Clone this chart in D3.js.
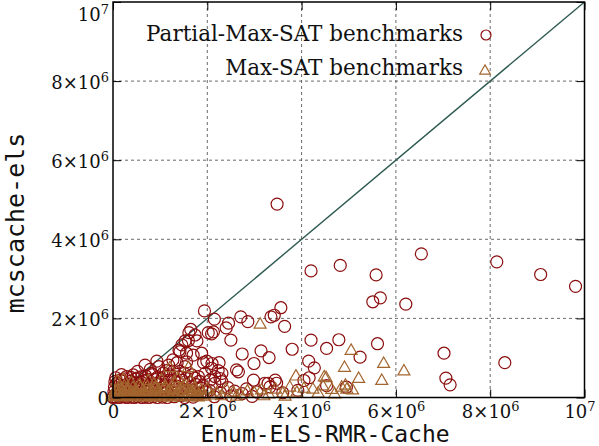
<!DOCTYPE html>
<html>
<head>
<meta charset="utf-8">
<script src="https://cdn.jsdelivr.net/npm/d3@7"></script>
<style>
  body { margin: 0; background: #fff; }
  svg { display: block; }
</style>
</head>
<body>
<div id="chart"></div>
<script>
// values in millions
var partialMaxSat = [
  [3.48,4.89],[4.20,3.20],[4.82,3.34],[5.58,3.10],[5.51,2.42],[5.67,2.52],[6.21,2.36],[6.54,3.63],
  [8.14,3.43],[9.07,3.11],[9.81,2.81],
  [1.94,2.19],[2.15,1.98],[2.71,2.04],[2.86,1.92],[2.45,1.88],[2.40,1.76],[3.35,2.04],[3.42,2.08],
  [3.56,2.27],[3.64,1.80],[1.65,1.72],[1.61,1.64],[2.02,1.64],[2.09,1.61],[2.13,1.66],[1.74,1.58],
  [4.20,1.45],[4.79,1.46],[4.53,1.24],[5.61,1.36],[5.24,1.02],[4.15,0.92],[4.27,0.75],[7.02,1.12],
  [8.31,0.88],[7.06,0.49],[7.15,0.32],[4.16,0.50],[4.05,0.43],[4.53,0.30],[4.95,0.26],
  [1.53,1.43],[1.60,1.44],[1.78,1.43],[2.50,1.45],[2.74,1.10],[3.14,1.18],[3.31,1.01],[2.99,0.86],
  [3.80,1.22],[1.40,1.20],[1.46,1.33],[1.42,1.16],[1.56,1.12],[1.70,1.07],[1.88,1.12],
  [0.93,0.92],[1.36,0.88],[1.56,0.90],[1.53,0.78],[1.92,0.88],[2.10,0.86],[2.25,0.88],[2.23,0.68],
  [2.62,0.70],[2.66,0.65],[2.98,0.44],[3.44,0.44],[1.81,0.53],[2.06,0.44],[1.99,0.92],[2.09,0.74],
  [2.16,0.53],[2.27,0.48],[2.31,0.40],[3.22,0.36],[3.29,0.36],[3.47,0.36],[1.85,0.10],[2.74,0.10],
  [3.33,0.27],[2.31,0.61],[2.16,0.36],[1.95,0.61],[1.67,0.57],[1.46,0.44],[1.14,0.53],[0.82,0.61],
  [0.61,0.53],[0.43,0.57],[0.29,0.53],[0.15,0.44],[0.54,0.36],[1.24,0.32],[1.67,0.27],[1.88,0.23],
  [0.05,0.08],[0.12,0.22],[0.21,0.31],[0.26,0.12],[0.36,0.41],[0.41,0.18],[0.48,0.47],[0.57,0.24],
  [0.66,0.42],[0.71,0.15],[0.77,0.33],[0.88,0.46],[0.92,0.21],[1.02,0.38],[1.07,0.62],[1.11,0.12],
  [1.19,0.44],[1.28,0.66],[1.33,0.19],[1.39,0.52],[1.51,0.61],[1.58,0.14],[1.63,0.38],[1.74,0.49],
  [1.79,0.07],[0.08,0.36],[0.18,0.58],[0.33,0.05],[0.63,0.07],[0.98,0.06],[1.22,0.08],[1.44,0.05],
  [2.05,0.18],[2.28,0.12],[2.44,0.25],[2.58,0.16],[2.83,0.22],[3.05,0.14],[3.60,0.12],[3.92,0.18],
  [0.52,0.66],[0.79,0.71],[0.97,0.78],[1.18,0.82],[1.27,0.95],[0.68,0.82],
  [0.01,0.02],[0.02,0.15],[0.03,0.27],[0.04,0.40],[0.06,0.50],[0.10,0.10],[0.13,0.32],[0.17,0.05],
  [0.20,0.42],[0.23,0.20],[0.27,0.47],[0.31,0.33],[0.34,0.16],[0.38,0.51],[0.40,0.28],[0.44,0.09],
  [0.47,0.36],[0.50,0.22],[0.53,0.50],[0.58,0.13],[0.60,0.39],[0.64,0.28],[0.69,0.55],[0.72,0.05],
  [0.74,0.46],[0.80,0.24],[0.84,0.58],[0.86,0.11],[0.90,0.36],[0.95,0.52],[1.00,0.17],[1.04,0.47],
  [1.09,0.28],[1.13,0.68],[1.16,0.20],[1.21,0.57],[1.26,0.12],[1.30,0.42],[1.35,0.29],[1.42,0.66],
  [1.48,0.22],[1.55,0.48],[1.61,0.08],[1.70,0.18],[1.76,0.33],[1.83,0.41],[1.90,0.30],[1.97,0.14],
  [0.00,0.00],[0.07,0.01],[0.14,0.00],[0.22,0.02],[0.29,0.00],[0.37,0.01],[0.45,0.00],[0.52,0.02],
  [0.61,0.00],[0.68,0.01],[0.76,0.00],[0.85,0.02],[0.94,0.00],[1.05,0.01],[1.15,0.00],[1.30,0.02],
  [1.52,0.00],[1.70,0.01],[2.15,0.02],[2.50,0.04],[2.95,0.03]
];
var maxSat = [
  [3.12,1.84],[5.05,1.18],[4.91,0.75],[5.74,0.85],[6.17,0.66],[5.21,0.47],[5.70,0.42],[4.52,0.49],
  [4.24,0.20],[4.64,0.19],[4.96,0.20],[5.08,0.18],[1.21,0.74],[1.60,0.74],[3.88,0.53],[4.48,0.51],
  [2.55,0.12],[2.70,0.08],[2.85,0.15],[3.00,0.10],[3.15,0.18],[3.30,0.08],[3.45,0.20],[3.60,0.10],
  [3.75,0.25],[3.90,0.12],[4.05,0.22],[4.35,0.10],[4.45,0.28],[4.70,0.08],[4.85,0.25],[4.93,0.30],
  [2.40,0.20],[2.20,0.10],[2.00,0.20],[1.90,0.08],
  [0.03,0.03],[0.07,0.12],[0.11,0.05],[0.16,0.19],[0.19,0.08],[0.24,0.28],[0.28,0.04],[0.32,0.15],
  [0.37,0.09],[0.42,0.24],[0.46,0.05],[0.51,0.13],[0.56,0.31],[0.60,0.06],[0.64,0.18],[0.69,0.10],
  [0.73,0.26],[0.78,0.04],[0.83,0.14],[0.87,0.33],[0.91,0.08],[0.96,0.20],[1.01,0.05],[1.06,0.15],
  [1.10,0.27],[1.15,0.06],[1.20,0.17],[1.25,0.10],[1.30,0.38],[1.35,0.05],[1.41,0.22],[1.47,0.12],
  [1.52,0.30],[1.57,0.04],[1.62,0.16],[1.68,0.09],[1.73,0.24],[1.78,0.14],[1.83,0.05],[1.87,0.18],
  [0.09,0.40],[0.22,0.45],[0.39,0.36],[0.75,0.42],[1.03,0.44],[1.38,0.47],[1.66,0.40],
  [0.00,0.01],[0.02,0.08],[0.05,0.18],[0.09,0.02],[0.13,0.11],[0.15,0.28],[0.18,0.00],[0.21,0.14],
  [0.26,0.07],[0.30,0.22],[0.34,0.02],[0.39,0.13],[0.43,0.00],[0.48,0.19],[0.53,0.06],[0.58,0.23],
  [0.62,0.01],[0.66,0.12],[0.71,0.00],[0.76,0.17],[0.81,0.07],[0.85,0.00],[0.89,0.23],[0.94,0.03],
  [0.99,0.12],[1.04,0.00],[1.08,0.21],[1.13,0.02],[1.18,0.11],[1.23,0.00],[1.28,0.19],[1.33,0.03],
  [1.39,0.10],[1.44,0.00],[1.50,0.17],[1.55,0.02],[1.60,0.09],[1.65,0.00],[1.71,0.12],[1.76,0.02],
  [1.81,0.00],[1.95,0.02],[2.10,0.05],[2.30,0.03],[2.62,0.02],[3.20,0.03],[3.65,0.02]
];
var xTicks = [0, 2e6, 4e6, 6e6, 8e6, 1e7];
var yTicks = [0, 2e6, 4e6, 6e6, 8e6, 1e7];
var legendLabels = ["Partial-Max-SAT benchmarks", "Max-SAT benchmarks"];
var xTitle = "Enum-ELS-RMR-Cache", yTitle = "mcscache-els";

var W = 599, H = 446,
    margin = {top: 2, right: 14.5, bottom: 48.5, left: 113},
    width = W - margin.left - margin.right,
    height = H - margin.top - margin.bottom,
    red = "#8b0d0d", brown = "#a3652e", lineCol = "#2e5a52",
    serif = "DejaVu Serif", mono = "DejaVu Sans Mono";

var svg = d3.select("#chart").append("svg")
    .attr("width", W).attr("height", H);
var g = svg.append("g")
    .attr("transform", "translate(" + margin.left + "," + margin.top + ")");

var x = d3.scaleLinear().domain([0, 1e7]).range([0, width]);
var y = d3.scaleLinear().domain([0, 1e7]).range([height, 0]);

// scientific labels like 2×10^6
function sciLabel(sel) {
    sel.each(function (d) {
        var t = d3.select(this).text(null);
        if (d === 0) { t.text("0"); return; }
        var e = Math.floor(Math.log10(d) + 1e-9), m = Math.round(d / Math.pow(10, e));
        t.append("tspan").text((m === 1 ? "" : m + "\u00d7") + "10");
        t.append("tspan").attr("dy", "-0.55em").attr("font-size", "0.72em").text(e);
    });
}

// grid
g.append("g").selectAll("line").data(xTicks.slice(1, -1)).enter().append("line")
    .attr("x1", x).attr("x2", x).attr("y1", 0).attr("y2", height)
    .attr("stroke", "#444").attr("stroke-width", 0.8).attr("stroke-dasharray", "3,3");
g.append("g").selectAll("line").data(yTicks.slice(1, -1)).enter().append("line")
    .attr("y1", y).attr("y2", y).attr("x1", 0).attr("x2", width)
    .attr("stroke", "#444").attr("stroke-width", 0.8).attr("stroke-dasharray", "3,3");

// y = x
g.append("line")
    .attr("x1", x(0)).attr("y1", y(0)).attr("x2", x(1e7)).attr("y2", y(1e7))
    .attr("stroke", lineCol).attr("stroke-width", 1.4);

var tri = d3.symbol().type(d3.symbolTriangle).size(62);

g.append("g").selectAll("circle").data(partialMaxSat).enter().append("circle")
    .attr("cx", function (d) { return x(d[0] * 1e6); })
    .attr("cy", function (d) { return y(d[1] * 1e6); })
    .attr("r", 6)
    .attr("fill", "none").attr("stroke", red).attr("stroke-width", 1.2);

g.append("g").selectAll("path").data(maxSat).enter().append("path")
    .attr("d", tri)
    .attr("transform", function (d) { return "translate(" + x(d[0] * 1e6) + "," + y(d[1] * 1e6) + ")"; })
    .attr("fill", "none").attr("stroke", brown).attr("stroke-width", 1.2);

// axes, inward ticks on all sides
var xb = g.append("g").attr("transform", "translate(0," + height + ")")
    .call(d3.axisBottom(x).tickValues(xTicks).tickSizeInner(-8).tickSizeOuter(0).tickPadding(8));
var yl = g.append("g")
    .call(d3.axisLeft(y).tickValues(yTicks).tickSizeInner(-8).tickSizeOuter(0).tickPadding(4));
g.append("g").attr("transform", "translate(" + width + ",0)")
    .call(d3.axisRight(y).tickValues(yTicks).tickSizeInner(-8).tickSizeOuter(0).tickFormat(""));
g.append("g")
    .call(d3.axisTop(x).tickValues(xTicks).tickSizeInner(-8).tickSizeOuter(0).tickFormat(""));
g.selectAll(".domain").remove();
g.selectAll(".tick line").attr("stroke", "#000").attr("stroke-width", 1);

xb.selectAll(".tick text").call(sciLabel)
    .attr("font-family", serif).attr("font-size", 18).attr("fill", "#111").attr("dy", "0.71em");
xb.selectAll(".tick text").filter(function (d) { return d === 1e7; }).attr("dx", "-5");
yl.selectAll(".tick text").call(sciLabel)
    .attr("font-family", serif).attr("font-size", 18).attr("fill", "#111").attr("dy", "0.4em");
yl.selectAll(".tick text").filter(function (d) { return d === 1e7; }).attr("dy", "1.05em");

g.append("rect").attr("width", width).attr("height", height)
    .attr("fill", "none").attr("stroke", "#000").attr("stroke-width", 1.5);

// legend
var legend = g.append("g").selectAll("g").data(legendLabels).enter().append("g")
    .attr("transform", function (d, i) { return "translate(" + (463 - margin.left) + "," + (41 + i * 34 - margin.top) + ")"; });
legend.append("text")
    .attr("text-anchor", "end").attr("font-family", serif).attr("font-size", 21.5).attr("fill", "#111")
    .text(function (d) { return d; });
legend.each(function (d, i) {
    var s = d3.select(this);
    if (i === 0) s.append("circle").attr("cx", 23).attr("cy", -6).attr("r", 5)
        .attr("fill", "none").attr("stroke", red).attr("stroke-width", 1.2);
    else s.append("path").attr("d", d3.symbol().type(d3.symbolTriangle).size(48))
        .attr("transform", "translate(22,-4)")
        .attr("fill", "none").attr("stroke", brown).attr("stroke-width", 1.2);
});

// axis titles
svg.append("text")
    .attr("x", 325).attr("y", 442).attr("text-anchor", "middle")
    .attr("font-family", mono).attr("font-size", 23).attr("fill", "#111")
    .text(xTitle);
svg.append("text")
    .attr("transform", "translate(24,223) rotate(-90)").attr("text-anchor", "middle")
    .attr("font-family", mono).attr("font-size", 25).attr("fill", "#111")
    .text(yTitle);
</script>
</body>
</html>
